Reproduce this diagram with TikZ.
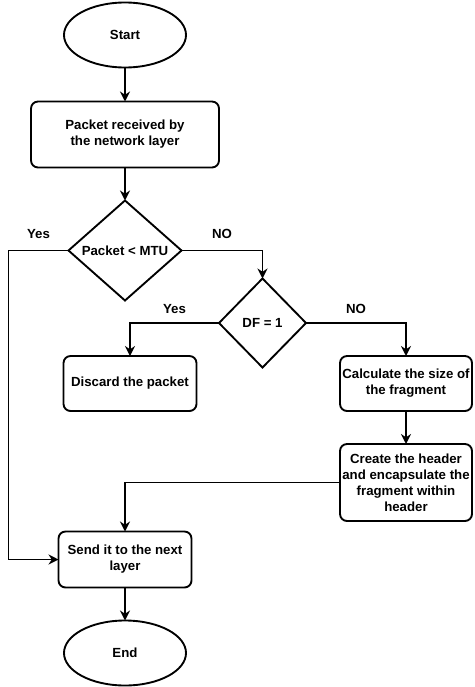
\documentclass[tikz,border=0pt]{standalone}
\usepackage{fontspec}
\setmainfont{Liberation Sans}
\usetikzlibrary{shapes.geometric,arrows.meta,positioning}
\tikzset{main ellipse/.style={ellipse,draw,line width=1.6pt,minimum width=3.66cm,minimum height=1.95cm,inner sep=0pt,outer sep=0pt},}
\tikzset{main rectangle/.style={rectangle,rounded corners=6pt,draw,line width=1.6pt,align=center,inner sep=0pt,outer sep=0pt},}
\tikzset{main diamond/.style={diamond,draw,line width=1.6pt,aspect=1,inner sep=0pt,outer sep=0pt},}
\tikzset{main arrow/.style={line width=1.6pt,-{Stealth[length=3mm,width=3mm]}},}

\begin{document}
\begin{tikzpicture}[font=\fontsize{11.3}{13.6}\selectfont\bfseries]
    \useasboundingbox (0,0) rectangle (14.22,-20.61);
    \node[main ellipse] (1) at (3.75,-1.05) {Start};
    \node[main rectangle,minimum width=5.64cm,minimum height=1.98cm] (2) [below=1.02cm of 1] {Packet received by\\the network layer};
    \node[main diamond,minimum width=3.39cm,minimum height=3cm] (3) [below=0.99cm of 2] {Packet < MTU};
    \node[main diamond,minimum width=2.61cm,minimum height=2.67cm] (4) [below=0.84cm of 3.east,xshift=2.43cm] {DF = 1};
    \node[main rectangle,minimum width=3.99cm,minimum height=1.65cm] (5) [below=0.99cm of 4.west,xshift=-2.67cm] {Discard the packet};
    \node[main rectangle,minimum width=3.96cm,minimum height=1.65cm] (6) [below=0.99cm of 4.east,xshift=3cm] {Calculate the size of\\the fragment};
    \node[main rectangle,minimum width=3.96cm,minimum height=2.31cm] (7) [below=0.99cm of 6] {Create the header\\and encapsulate the\\fragment within\\header};
    \node[main rectangle,minimum width=3.99cm,minimum height=1.68cm] (8) [below=6.93cm of 3] {Send it to the next\\layer};
    \node[main ellipse] (9) [below=0.99cm of 8] {End};

    \path[main arrow] (1) edge (2);
    \path[main arrow] (2) edge (3);
    \draw[main arrow] (3.west) -- ++(-1.8,0) node[midway,above=6pt] {Yes} |- (8.west);
    \draw[main arrow] (3.east) -| node[pos=0.25,above=6pt] {NO} (4.north);
    \draw[main arrow] (4.west) -| node[pos=0.25,above=4pt] {Yes} (5.north);
    \draw[main arrow] (4.east) -| node[pos=0.25,above=4pt] {NO} (6.north);
    \path[main arrow] (6) edge (7);
    \draw[main arrow] (7.west) -| (8.north);
    \path[main arrow] (8) edge (9);
\end{tikzpicture}
\end{document}
